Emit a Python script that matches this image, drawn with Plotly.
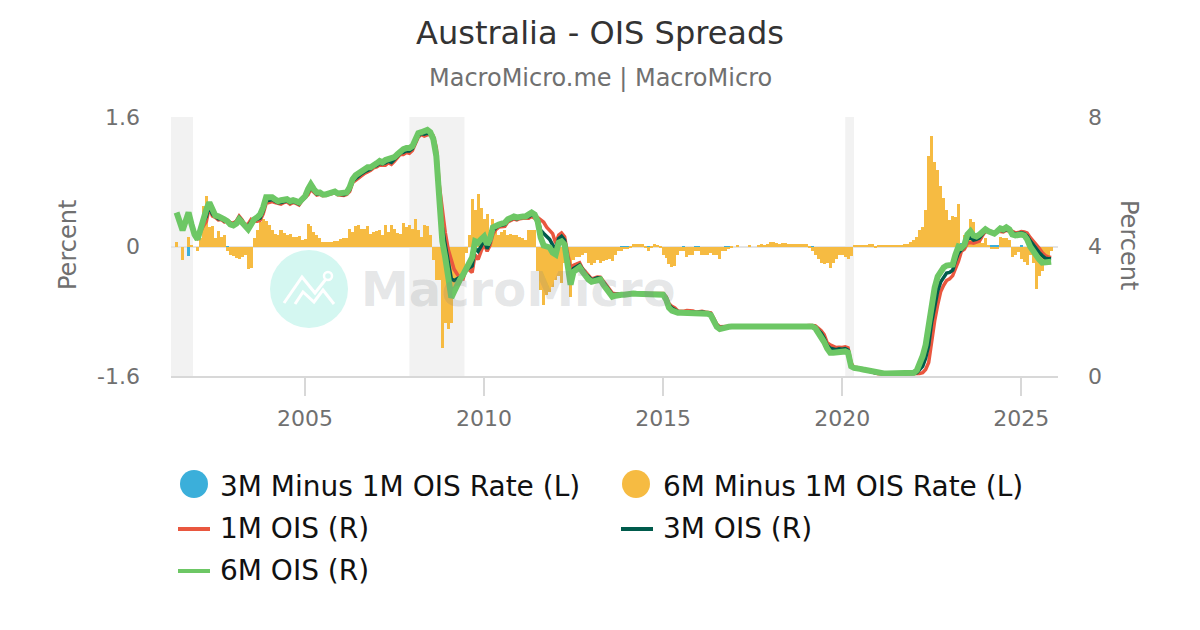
import pandas as pd
import plotly.graph_objects as go

# ---------- data: month by month, Jun 2001 - Nov 2025 ----------
dates = pd.date_range("2001-06-01", "2025-11-01", freq="MS")

spread_3m_1m = [
 .02,0,-.08,0,-.12,.01,0,
 -.03,.05,.25,.3,.12,.12,.05,.09,.06,.07,-.02,-.05,
 -.06,-.07,-.08,-.06,-.05,-.13,-.12,.05,.1,.14,.16,.15,
 .12,.1,.08,.07,.09,.08,.07,.07,.06,.06,.06,.04,
 .04,.13,.12,.09,.07,.05,.03,.02,.03,.02,.03,.03,
 .04,.05,.05,.1,.09,.12,.13,.11,.11,.12,.08,.09,
 .09,.1,.07,.13,.09,.13,.11,.08,.08,.14,.12,.13,
 .11,.16,.1,.06,.13,.12,.07,-.08,-.2,-.2,-.6,-.45,
 -.5,-.45,-.27,-.22,-.18,-.15,-.04,.07,.28,.22,.3,.23,
 .16,.2,.1,.16,.1,.07,.09,.1,.07,.08,.07,.07,
 .06,.05,.04,.1,.1,.1,-.14,-.26,-.35,-.3,-.27,-.24,
 -.2,-.18,-.22,-.1,-.15,-.3,-.08,-.06,-.06,-.05,-.04,-.1,
 -.11,-.1,-.08,-.1,-.09,-.08,-.07,-.09,-.05,-.03,-.02,-.01,
 -.01,0,.01,.01,.01,.01,-.01,-.02,0,.01,.01,0,
 -.05,-.07,-.11,-.12,-.12,-.05,-.03,-.02,-.06,-.05,-.05,-.02,
 -.02,-.05,-.05,-.05,-.04,-.05,-.05,-.08,-.03,-.02,-.01,-.01,
 0,.01,0,0,0,.01,0,0,.01,.01,.01,.01,
 .02,.02,.02,.01,.02,.02,.02,.02,.01,.01,.01,.01,
 .01,-.01,-.02,-.05,-.07,-.1,-.11,-.1,-.13,-.1,-.08,-.05,
 -.05,-.06,-.08,-.06,.01,.01,.01,.01,.01,.01,.01,0,
 .01,.01,.01,.01,.01,.01,.01,.01,.01,.01,.01,.03,
 .03,.05,.1,.12,.22,.5,.62,.48,.42,.34,.27,.2,
 .15,.17,.16,.24,.04,.07,.05,.16,.14,.06,.02,.02,
 .05,.01,.02,.02,.02,.06,.05,.05,.04,-.06,-.05,-.03,
 .02,-.09,-.11,-.05,-.1,-.25,-.18,-.14,-.09,-.07,-.03,
]

spread_6m_1m = [
 .05,0,-.17,0,.12,.02,0,
 -.06,.1,.5,.62,.24,.25,.1,.19,.12,.14,-.05,-.1,
 -.12,-.14,-.16,-.13,-.11,-.28,-.26,.1,.2,.3,.34,.32,
 .26,.21,.16,.14,.2,.17,.14,.15,.12,.12,.13,.08,
 .09,.28,.25,.18,.14,.1,.06,.05,.06,.05,.07,.07,
 .09,.1,.1,.22,.18,.25,.27,.22,.22,.25,.16,.18,
 .19,.2,.14,.27,.18,.27,.22,.17,.16,.29,.24,.27,
 .22,.34,.2,.12,.27,.25,.14,-.17,-.42,-.42,-1.25,-.95,
 -1.02,-.95,-.55,-.45,-.38,-.3,-.08,.14,.59,.45,.65,.47,
 .34,.4,.2,.34,.2,.14,.18,.2,.14,.16,.14,.14,
 .12,.1,.08,.2,.21,.2,-.3,-.54,-.72,-.6,-.56,-.5,
 -.42,-.37,-.45,-.2,-.3,-.62,-.17,-.13,-.13,-.1,-.08,-.2,
 -.23,-.2,-.17,-.2,-.18,-.17,-.15,-.18,-.1,-.06,-.05,-.03,
 -.03,-.01,.03,.03,.03,.03,-.02,-.05,-.01,.03,.02,-.01,
 -.1,-.14,-.22,-.25,-.24,-.1,-.06,-.05,-.13,-.1,-.1,-.05,
 -.05,-.1,-.1,-.1,-.08,-.1,-.1,-.16,-.06,-.05,-.03,-.02,
 0,.02,0,0,0,.02,0,0,.02,.03,.02,.03,
 .05,.05,.04,.03,.04,.04,.03,.03,.03,.03,.03,.03,
 .025,-.02,-.05,-.1,-.15,-.2,-.22,-.2,-.26,-.2,-.16,-.11,
 -.11,-.13,-.16,-.12,.02,.02,.02,.02,.02,.03,.03,-.01,
 .02,.02,.02,.02,.02,.02,.02,.02,.02,.03,.03,.06,
 .08,.12,.2,.24,.45,1.12,1.36,1.05,.94,.75,.6,.45,
 .33,.38,.36,.52,.01,.14,.1,.34,.3,.12,.05,.04,
 .1,.02,-.03,-.03,-.03,.12,.11,.1,.08,-.13,-.1,-.07,
 -.15,-.19,-.23,-.1,-.2,-.53,-.37,-.3,-.18,-.14,-.06,
]

ois_1m = [
 5.02,4.78,4.6,4.78,4.98,4.67,4.37,
 4.26,4.47,4.63,4.78,5.22,4.94,4.9,4.82,4.83,4.76,4.81,4.74,
 4.72,4.79,4.94,4.82,4.66,4.7,4.84,4.78,4.78,4.81,5.01,5.33,
 5.36,5.39,5.36,5.32,5.31,5.36,5.38,5.31,5.36,5.33,5.28,5.41,
 5.5,5.6,5.77,5.66,5.59,5.61,5.57,5.58,5.6,5.64,5.66,5.6,
 5.59,5.58,5.61,5.7,5.97,6.05,6.1,6.2,6.26,6.3,6.35,6.43,
 6.46,6.52,6.52,6.51,6.59,6.54,6.63,6.75,6.85,6.84,6.9,6.88,
 6.97,7.18,7.38,7.46,7.41,7.45,7.45,7.42,7.05,5.9,5.1,4.43,
 3.9,3.55,3.3,3.15,3.03,3.0,3.3,3.28,3.2,3.75,3.6,3.85,
 4.08,3.85,4.03,4.38,4.52,4.6,4.6,4.62,4.76,4.8,4.85,4.82,
 4.86,4.87,4.88,4.87,4.93,4.87,4.9,4.82,4.75,4.6,4.5,4.4,
 4.1,4.35,4.42,4.3,3.8,3.35,3.42,3.45,3.5,3.32,3.2,3.12,
 3.0,3.03,3.06,3.05,2.93,2.8,2.68,2.56,2.54,2.54,2.54,2.53,
 2.54,2.54,2.54,2.54,2.53,2.54,2.54,2.55,2.54,2.53,2.53,2.53,
 2.55,2.45,2.24,2.15,2.1,2.01,2.0,2.0,2.02,2.02,2.01,1.97,
 1.99,2.0,1.98,1.97,1.95,1.78,1.6,1.52,1.53,1.54,1.54,1.54,
 1.53,1.53,1.54,1.55,1.55,1.54,1.55,1.55,1.54,1.53,1.54,1.54,
 1.53,1.52,1.53,1.53,1.54,1.53,1.53,1.53,1.53,1.54,1.54,1.54,
 1.55,1.56,1.56,1.55,1.48,1.4,1.28,1.03,.96,.93,.88,.89,
 .88,.9,.87,.4,.26,.26,.23,.21,.18,.16,.13,.1,
 .07,.07,.06,.06,.06,.06,.06,.06,.06,.07,.07,.07,
 .07,.07,.08,.1,.2,.42,1.1,1.7,2.2,2.6,2.8,2.95,
 3.0,3.1,3.32,3.55,3.85,3.92,4.1,4.12,4.1,4.13,4.17,4.33,
 4.47,4.45,4.46,4.43,4.49,4.46,4.45,4.5,4.47,4.47,4.42,4.43,
 4.46,4.45,4.42,4.28,4.18,4.08,3.95,3.82,3.72,3.68,3.66,
]

ois_3m = [
 5.03,4.78,4.56,4.78,5.0,4.67,4.37,
 4.24,4.5,4.76,4.93,5.28,5.0,4.92,4.86,4.86,4.79,4.8,4.72,
 4.69,4.76,4.9,4.79,4.63,4.63,4.77,4.8,4.83,4.88,5.09,5.41,
 5.43,5.45,5.4,5.35,5.36,5.4,5.41,5.35,5.39,5.36,5.31,5.43,
 5.52,5.67,5.83,5.71,5.62,5.64,5.59,5.59,5.62,5.65,5.68,5.62,
 5.61,5.6,5.64,5.75,6.02,6.11,6.17,6.25,6.31,6.36,6.39,6.48,
 6.5,6.57,6.55,6.58,6.64,6.6,6.68,6.79,6.89,6.91,6.96,6.95,
 7.02,7.25,7.42,7.49,7.47,7.5,7.49,7.38,6.93,5.55,4.6,4.05,
 3.5,3.0,2.95,3.0,3.05,3.1,3.28,3.33,3.4,3.95,3.85,4.0,
 4.2,3.93,4.12,4.48,4.58,4.64,4.65,4.68,4.8,4.85,4.88,4.85,
 4.89,4.9,4.9,4.92,4.98,4.93,4.85,4.5,4.4,4.3,4.22,4.05,
 3.95,4.25,4.32,4.2,3.65,3.1,3.32,3.38,3.43,3.3,3.15,3.07,
 2.97,3.0,3.03,3.02,2.9,2.76,2.66,2.52,2.52,2.53,2.53,2.52,
 2.54,2.54,2.54,2.54,2.54,2.54,2.55,2.55,2.54,2.54,2.53,2.53,
 2.53,2.42,2.2,2.1,2.06,1.99,1.98,1.98,2.0,1.99,1.98,1.96,
 1.97,1.98,1.96,1.95,1.92,1.74,1.57,1.49,1.51,1.53,1.53,1.54,
 1.53,1.53,1.54,1.55,1.55,1.54,1.55,1.55,1.54,1.54,1.54,1.55,
 1.54,1.53,1.54,1.54,1.55,1.54,1.54,1.54,1.54,1.54,1.54,1.54,
 1.55,1.55,1.55,1.52,1.43,1.33,1.17,.95,.86,.83,.81,.84,
 .83,.85,.8,.33,.25,.25,.22,.2,.18,.15,.12,.1,
 .08,.08,.07,.07,.07,.07,.07,.07,.07,.08,.08,.08,
 .08,.1,.18,.3,.55,.95,1.65,2.2,2.62,2.9,3.05,3.18,
 3.2,3.27,3.55,3.8,3.9,4.0,4.22,4.28,4.2,4.22,4.27,4.4,
 4.5,4.46,4.44,4.41,4.48,4.51,4.48,4.53,4.49,4.42,4.38,4.4,
 4.42,4.4,4.33,4.18,4.05,3.95,3.82,3.72,3.64,3.62,3.62,
]

ois_6m = [
 5.05,4.78,4.5,4.78,5.05,4.68,4.37,
 4.22,4.53,4.93,5.15,5.36,5.09,4.96,4.93,4.9,4.84,4.78,4.68,
 4.65,4.71,4.84,4.74,4.59,4.53,4.68,4.84,4.9,4.99,5.21,5.52,
 5.52,5.52,5.46,5.4,5.43,5.46,5.46,5.4,5.43,5.4,5.36,5.46,
 5.55,5.77,5.92,5.77,5.67,5.67,5.61,5.61,5.64,5.67,5.7,5.64,
 5.64,5.64,5.67,5.83,6.08,6.2,6.26,6.33,6.39,6.45,6.45,6.54,
 6.57,6.64,6.6,6.67,6.7,6.7,6.76,6.85,6.95,7.01,7.04,7.04,
 7.1,7.38,7.5,7.53,7.57,7.6,7.53,7.32,6.79,5.24,4.16,3.66,
 3.07,2.42,2.6,2.82,2.98,3.13,3.29,3.44,3.66,4.16,4.12,4.22,
 4.31,4.06,4.22,4.59,4.65,4.68,4.71,4.74,4.84,4.9,4.93,4.9,
 4.93,4.93,4.93,4.99,5.05,4.99,4.78,4.28,4.03,4.0,3.97,3.81,
 3.75,4.12,4.16,4.06,3.53,2.82,3.22,3.29,3.35,3.22,3.07,2.98,
 2.91,2.95,2.98,2.98,2.82,2.7,2.6,2.45,2.48,2.51,2.51,2.51,
 2.54,2.54,2.55,2.54,2.54,2.54,2.55,2.54,2.54,2.54,2.53,2.53,
 2.51,2.36,2.11,2.02,1.98,1.95,1.95,1.95,1.95,1.95,1.95,1.92,
 1.95,1.95,1.93,1.92,1.88,1.67,1.52,1.45,1.48,1.52,1.52,1.53,
 1.53,1.54,1.54,1.55,1.55,1.55,1.55,1.56,1.55,1.55,1.55,1.56,
 1.56,1.55,1.55,1.55,1.56,1.55,1.55,1.55,1.55,1.55,1.55,1.55,
 1.55,1.55,1.53,1.48,1.35,1.25,1.05,.85,.72,.72,.74,.76,
 .76,.76,.72,.3,.25,.25,.22,.2,.18,.15,.12,.1,
 .1,.09,.08,.08,.08,.08,.08,.08,.09,.1,.1,.1,
 .1,.18,.35,.62,.96,1.58,2.26,2.73,3.07,3.22,3.35,3.41,
 3.41,3.44,3.75,4.0,3.97,4.06,4.37,4.47,4.34,4.31,4.37,4.47,
 4.53,4.47,4.43,4.4,4.47,4.56,4.53,4.59,4.53,4.37,4.34,4.37,
 4.37,4.34,4.22,4.0,3.84,3.69,3.6,3.5,3.5,3.5,3.53,
]

for name, s in [("b", spread_3m_1m), ("y", spread_6m_1m), ("1", ois_1m), ("3", ois_3m), ("6", ois_6m)]:
    assert len(s) == len(dates), (name, len(s), len(dates))

recessions = [("2001-04-05", "2001-11-15"), ("2007-12-01", "2009-06-15"), ("2020-02-01", "2020-05-01")]
x_range = ["2001-04-05", "2026-01-10"]
left_ticks = [-1.6, 0, 1.6]
right_ticks = [0, 4, 8]
year_ticks = ["2005-01-01", "2010-01-01", "2015-01-01", "2020-01-01", "2025-01-01"]
year_labels = ["2005", "2010", "2015", "2020", "2025"]

BLUE, YELLOW, RED, DARK, GREEN = "#3BAFDA", "#F6BB42", "#E9573F", "#005B4C", "#6DC765"
FONT = "DejaVu Sans"
TICK = "#707070"

# plot area in pixels
L, R, T, B = 171, 1058, 117, 376
def px(x): return (x - L) / (R - L)
def py(y): return (B - y) / (B - T)

fig = go.Figure()
bar_w = 2.7e9
fig.add_trace(go.Bar(x=dates, y=spread_3m_1m, name="3M Minus 1M OIS Rate (L)", marker=dict(color=BLUE, line_width=0), width=bar_w, yaxis="y"))
fig.add_trace(go.Bar(x=dates, y=spread_6m_1m, name="6M Minus 1M OIS Rate (L)", marker=dict(color=YELLOW, line_width=0), width=bar_w, yaxis="y"))
fig.add_trace(go.Scatter(x=dates, y=ois_1m, name="1M OIS (R)", mode="lines", line=dict(color=RED, width=3.5), yaxis="y2"))
fig.add_trace(go.Scatter(x=dates, y=ois_3m, name="3M OIS (R)", mode="lines", line=dict(color=DARK, width=3.5), yaxis="y2"))
fig.add_trace(go.Scatter(x=dates, y=ois_6m, name="6M OIS (R)", mode="lines", line=dict(color=GREEN, width=6), yaxis="y2"))

shapes = []
for a, b in recessions:
    shapes.append(dict(type="rect", xref="x", yref="paper", x0=a, x1=b, y0=0, y1=1, layer="below", fillcolor="#F2F2F2", line_width=0))

def pts(p):
    return "M " + " L ".join(f"{px(x):.5f} {py(y):.5f}" for x, y in p)

# watermark logo
shapes.append(dict(type="circle", xref="paper", yref="paper", x0=px(270), x1=px(348), y0=py(328), y1=py(250), fillcolor="#D4F7F1", line_width=0, layer="below"))
for p in ([(284, 303), (302, 277), (315, 293), (326, 279)], [(295, 304), (303, 292), (314, 302), (323, 290), (334, 304)]):
    shapes.append(dict(type="path", xref="paper", yref="paper", path=pts(p), line=dict(color="white", width=3), layer="below"))
shapes.append(dict(type="circle", xref="paper", yref="paper", x0=px(324), x1=px(332), y0=py(280), y1=py(272), line=dict(color="white", width=2.5), layer="below"))

# legend glyphs
for cx in (194, 636):
    col = BLUE if cx == 194 else YELLOW
    shapes.append(dict(type="circle", xref="paper", yref="paper", x0=px(cx - 14), x1=px(cx + 14), y0=py(484 + 14), y1=py(484 - 14), fillcolor=col, line_width=0))
for x0, y, col in ((178, 529, RED), (621, 529, DARK), (178, 571, GREEN)):
    shapes.append(dict(type="line", xref="paper", yref="paper", x0=px(x0), x1=px(x0 + 32), y0=py(y), y1=py(y), line=dict(color=col, width=4)))

legend_entries = [(217.5, 486.5, "3M Minus 1M OIS Rate (L)"), (660.5, 486.5, "6M Minus 1M OIS Rate (L)"),
                  (217.5, 528.5, "1M OIS (R)"), (660.5, 528.5, "3M OIS (R)"), (217.5, 570.5, "6M OIS (R)")]
ann = [dict(xref="paper", yref="paper", x=px(x), y=py(y), text=t, showarrow=False, xanchor="left", yanchor="middle",
            font=dict(family=FONT, size=28, color="#111111")) for x, y, t in legend_entries]
ann.append(dict(xref="paper", yref="paper", x=px(359), y=py(289), text="<b>MacroMicro</b>", showarrow=False, xanchor="left", yanchor="middle",
                font=dict(family=FONT, size=48, color="rgba(125,130,135,0.2)")))
ann.append(dict(xref="paper", yref="paper", x=px(600), y=py(78), text="MacroMicro.me | MacroMicro", showarrow=False, xanchor="center", yanchor="middle",
                font=dict(family=FONT, size=24, color=TICK)))
ann.append(dict(xref="paper", yref="paper", x=px(68), y=py(245), text="Percent", showarrow=False, textangle=-90, xanchor="center", yanchor="middle",
                font=dict(family=FONT, size=24, color=TICK)))
ann.append(dict(xref="paper", yref="paper", x=px(1129), y=py(245), text="Percent", showarrow=False, textangle=90, xanchor="center", yanchor="middle",
                font=dict(family=FONT, size=24, color=TICK)))

fig.update_layout(
    width=1200, height=630, autosize=False,
    margin=dict(l=L, r=1200 - R, t=T, b=630 - B, pad=0),
    paper_bgcolor="white", plot_bgcolor="white",
    barmode="overlay", bargap=0, showlegend=False, hovermode=False,
    font=dict(family=FONT, color=TICK),
    title=dict(text="Australia - OIS Spreads", x=0.5, xanchor="center", y=1 - 33 / 630, yanchor="middle",
               font=dict(family=FONT, size=32, color="#333333")),
    xaxis=dict(type="date", range=x_range, tickmode="array", tickvals=year_ticks, ticktext=year_labels,
               ticks="outside", ticklen=18, tickwidth=2, tickcolor="#D8D8D8", showgrid=False, zeroline=False,
               showline=True, linecolor="#D8D8D8", linewidth=2, ticklabelstandoff=4,
               tickfont=dict(family=FONT, size=22, color=TICK)),
    yaxis=dict(range=[-1.6, 1.6], tickmode="array", tickvals=left_ticks, ticktext=["-1.6", "0", "1.6"],
               showgrid=True, gridcolor="#E4E4E4", gridwidth=2, zeroline=False, showline=False, ticks="",
               ticklabelstandoff=30, tickfont=dict(family=FONT, size=22, color=TICK)),
    yaxis2=dict(range=[0, 8], overlaying="y", side="right", tickmode="array", tickvals=right_ticks, ticktext=["0", "4", "8"],
                showgrid=False, zeroline=False, showline=False, ticks="", ticklabelstandoff=29,
                tickfont=dict(family=FONT, size=22, color=TICK)),
    shapes=shapes, annotations=ann,
)

fig.write_html("out.html", config={"displayModeBar": False},
               post_script="document.body.style.margin='0';document.body.style.overflow='hidden';")
